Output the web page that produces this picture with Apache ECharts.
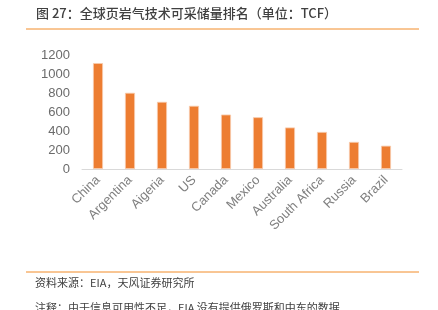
<!DOCTYPE html>
<html><head><meta charset="utf-8">
<script src="https://cdn.jsdelivr.net/npm/echarts@6/dist/echarts.min.js"></script>
<style>html,body{margin:0;padding:0;background:#fff;}#c{width:438px;height:310px;}</style>
</head><body><div id="c"></div>
<script>
const categories = ['China','Argentina','Aigeria','US','Canada','Mexico','Australia','South Africa','Russia','Brazil'];
const values = [1115, 802, 707, 665, 573, 545, 437, 390, 285, 245];
const titleText = '图 27：全球页岩气技术可采储量排名（单位：TCF）';
const sourceText = '资料来源：EIA，天风证券研究所';
const noteText = '注释：由于信息可用性不足，EIA 没有提供俄罗斯和中东的数据';

const chart = echarts.init(document.getElementById('c'));
chart.setOption({
  animation: false,
  grid: {left: 82, right: 36, top: 55, bottom: 141, containLabel: false},
  xAxis: {
    type: 'category', data: categories,
    axisLine: {lineStyle: {color: '#d9d9d9'}},
    axisTick: {show: false},
    axisLabel: {rotate: 45, color: '#808080', fontSize: 13, fontFamily: 'Liberation Sans, Arial', margin: 9, interval: 0}
  },
  yAxis: {
    type: 'value', min: 0, max: 1200, interval: 200,
    axisLine: {show: false}, axisTick: {show: false}, splitLine: {show: false},
    axisLabel: {color: '#6b6b6b', fontSize: 13, fontFamily: 'Liberation Sans, Arial', margin: 12, formatter: v => String(v)}
  },
  series: [{
    type: 'bar', data: values, barWidth: 10,
    itemStyle: {color: '#ED7D31', borderColor: '#F8CBAD', borderWidth: 0.8}
  }],
  graphic: [
    {type: 'text', left: 36, top: 7, style: {text: titleText, fill: '#404040', font: '500 13px "Noto Sans CJK SC", sans-serif'}},
    {type: 'line', shape: {x1: 26, y1: 29, x2: 419, y2: 29}, style: {stroke: '#F28C28', lineWidth: 1}},
    {type: 'line', shape: {x1: 26, y1: 272, x2: 419, y2: 272}, style: {stroke: '#F28C28', lineWidth: 1}},
    {type: 'text', left: 35, top: 277, style: {text: sourceText, fill: '#404040', font: '11px "Noto Sans CJK SC", sans-serif'}},
    {type: 'text', left: 35, top: 302, style: {text: noteText, fill: '#404040', font: '11px "Noto Sans CJK SC", sans-serif'}}
  ]
});
</script></body></html>
